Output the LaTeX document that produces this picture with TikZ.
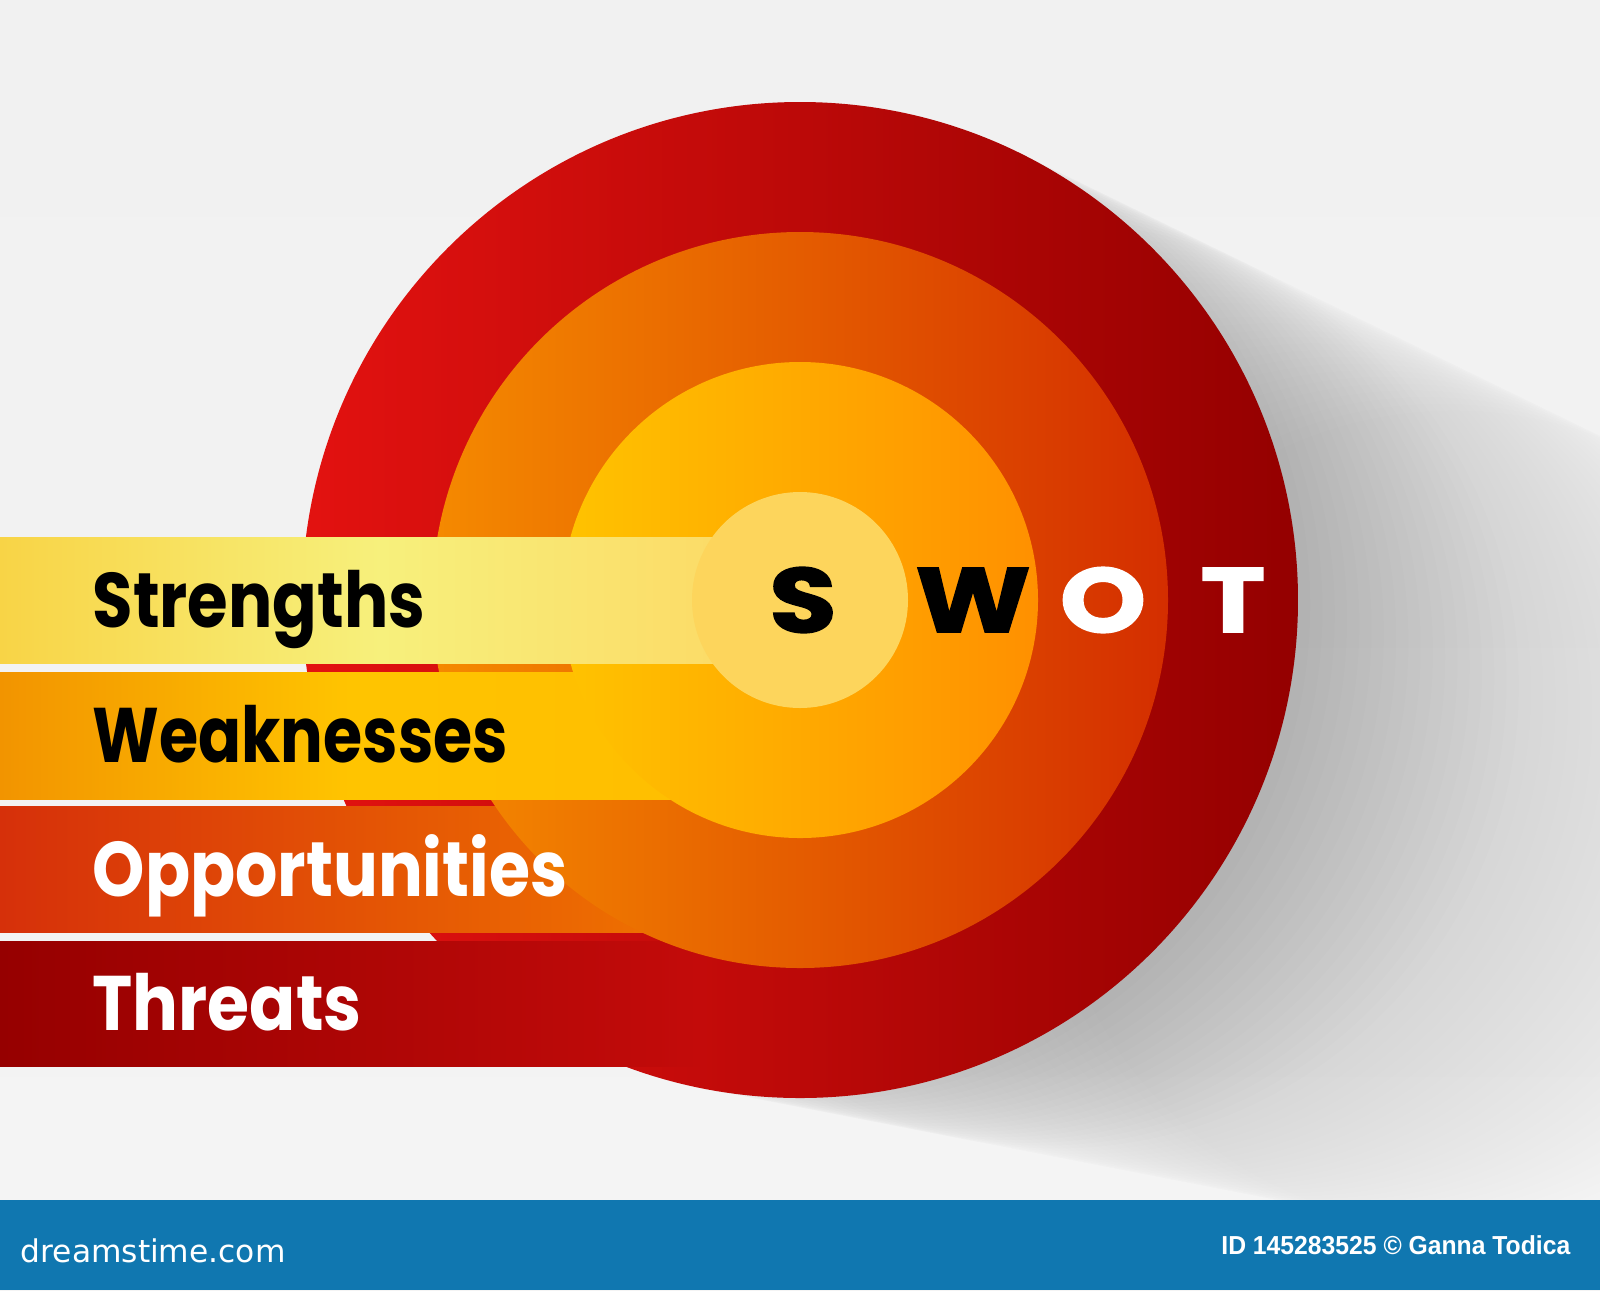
\documentclass[tikz,border=0pt]{standalone}
\usepackage{fontspec}
\setmainfont{Poppins}
\newfontfamily\swotfont{Poppins}[BoldFeatures={FakeBold=1.6}]
\newfontfamily\barfont{Liberation Sans}
\newfontfamily\logofont{DejaVu Sans}

\definecolor{bgtop}{HTML}{F1F1F1}
\definecolor{bgbot}{HTML}{F4F4F4}
\definecolor{outerL}{HTML}{E31210}
\definecolor{outerR}{HTML}{940000}
\definecolor{midL}{HTML}{F58A00}
\definecolor{midR}{HTML}{D42E00}
\definecolor{innerL}{HTML}{FFC300}
\definecolor{innerR}{HTML}{FF9000}
\definecolor{core}{HTML}{FDD55C}
\definecolor{strL}{HTML}{F8D446}
\definecolor{strM}{HTML}{F7F07C}
\definecolor{strR}{HTML}{FCD965}
\definecolor{weakL}{HTML}{F29400}
\definecolor{weakM}{HTML}{FFC400}
\definecolor{weakR}{HTML}{FFBE00}
\definecolor{oppL}{HTML}{D6300A}
\definecolor{oppR}{HTML}{F07400}
\definecolor{thrL}{HTML}{960000}
\definecolor{thrR}{HTML}{C30B0A}
\definecolor{barblue}{HTML}{1077B0}

\begin{document}
\begin{tikzpicture}[x=0.01cm, y=-0.01cm,
    label/.style={anchor=base west, inner sep=0pt,
      font=\fontsize{22}{26}\selectfont\bfseries},
    letter/.style={inner sep=0pt,
      font=\swotfont\fontsize{26}{30}\selectfont\bfseries}]
  % background
  \shade[top color=bgtop, bottom color=bgbot] (0,0) rectangle (1600,1290);
  \useasboundingbox (0,0) rectangle (1600,1290);

  % long soft shadow: copies of the disc pushed down-right, shrinking
  \foreach \d [evaluate=\d as \op using {0.0085*(1-\d/900)}] in {0,15,...,885}
    \fill[black, opacity=\op] ({800+0.948*\d},{600+0.317*\d}) circle[radius={498-0.13*\d}];

  % rings and bands, back to front
  \shade[left color=outerL, right color=outerR] (800,600) circle[radius=498];
  \shade[left color=thrL, right color=thrR] (0,941) rectangle (700,1066);
  \shade[left color=oppL, right color=oppR] (0,806) rectangle (700,932);
  \shade[left color=midL, right color=midR] (800,600) circle[radius=368];
  \shade[left color=weakL, right color=weakR, middle color=weakM] (0,672) rectangle (700,799);
  \shade[left color=innerL, right color=innerR] (800,600) circle[radius=238];
  \shade[left color=strL, right color=strR, middle color=strM] (0,537) rectangle (760,663);
  \fill[core] (800,600) circle[radius=108];

  % band labels
  \node[label] (strengths) at (92,627) {\scalebox{0.85}[1]{Strengths}};
  \node[label] (weaknesses) at (92,762) {\scalebox{0.82}[1]{Weaknesses}};
  \node[label, text=white] (opportunities) at (92,896) {\scalebox{0.86}[1]{Opportunities}};
  \node[label, text=white] (threats) at (92,1030) {\scalebox{0.88}[1]{Threats}};

  % letters
  \node[letter] (s) at (803,600) {\scalebox{1.2}[1]{S}};
  \node[letter] (w) at (973,600) {\scalebox{1.2}[1]{W}};
  \node[letter, text=white] (o) at (1103,600) {\scalebox{1.2}[1]{O}};
  \node[letter, text=white] (t) at (1233,600) {\scalebox{1.2}[1]{T}};

  % footer
  \fill[barblue] (0,1200) rectangle (1600,1290);
  \node[anchor=base west, inner sep=0pt, text=white,
    font=\logofont\fontsize{8.9}{11}\selectfont] (logo) at (20,1262) {dreamstime.com};
  \node[anchor=base east, inner sep=0pt, text=white,
    font=\barfont\fontsize{7.4}{9}\selectfont\bfseries] (credit) at (1571,1254)
    {\scalebox{0.95}[1]{ID 145283525 © Ganna Todica}};
\end{tikzpicture}
\end{document}
